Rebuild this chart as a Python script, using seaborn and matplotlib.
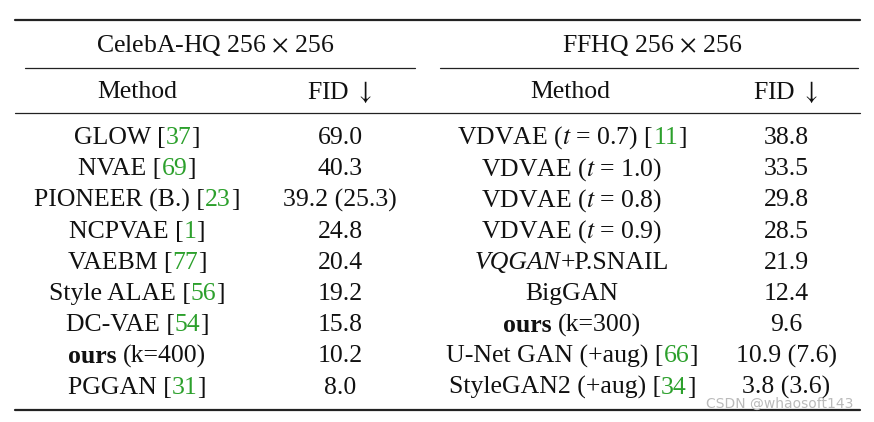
import re
import matplotlib
matplotlib.use("Agg")
import matplotlib.pyplot as plt
import seaborn as sns

sns.set_theme(style="white")
plt.rcParams['font.family'] = ['Liberation Serif', 'DejaVu Serif']
plt.rcParams['mathtext.fontset'] = 'stix'

left_title = "CelebA-HQ 256 $\\times$ 256"
right_title = "FFHQ 256 $\\times$ 256"
col_headers = ["Method", "FID $\\downarrow$", "Method", "FID $\\downarrow$"]
left_methods = ["GLOW [{37}]", "NVAE [{69}]", "PIONEER (B.) [{23}]", "NCPVAE [{1}]",
                "VAEBM [{77}]", "Style ALAE [{56}]", "DC-VAE [{54}]", "**ours** (k=400)", "PGGAN [{31}]"]
left_fid = ["69.0", "40.3", "39.2 (25.3)", "24.8", "20.4", "19.2", "15.8", "10.2", "8.0"]
right_methods = ["VDVAE ($t$ = 0.7) [{11}]", "VDVAE ($t$ = 1.0)", "VDVAE ($t$ = 0.8)", "VDVAE ($t$ = 0.9)",
                 "*VQGAN*+P.SNAIL", "BigGAN", "**ours** (k=300)", "U-Net GAN (+aug) [{66}]", "StyleGAN2 (+aug) [{34}]"]
right_fid = ["38.8", "33.5", "29.8", "28.5", "21.9", "12.4", "9.6", "10.9 (7.6)", "3.8 (3.6)"]

W, H = 874, 422
fig = plt.figure(figsize=(W/100, H/100), dpi=100)
ax = fig.add_axes([0, 0, 1, 1])
ax.set_xlim(0, W); ax.set_ylim(H, 0); ax.axis('off')
FS = 18.5
GREEN = '#2ca02c'
r = fig.canvas.get_renderer()

def tw(s, **kw):
    t = ax.text(0, 0, s, fontsize=FS, **kw)
    w = t.get_window_extent(r).width
    t.remove()
    return w

SP = tw("a a") - tw("aa")

def parse(s):
    out = []
    for tok in re.split(r'(\{[^}]*\}|\*\*[^*]*\*\*|\*[^*]*\*)', s):
        if not tok: continue
        if tok.startswith('{'): out.append((tok[1:-1], dict(color=GREEN)))
        elif tok.startswith('**'): out.append((tok[2:-2], dict(fontweight='bold')))
        elif tok.startswith('*'): out.append((tok[1:-1], dict(fontstyle='italic')))
        else: out.append((tok, {}))
    return out

def cell(xc, y, s):
    items = []
    for txt, st in parse(s):
        lead = len(txt) - len(txt.lstrip(' '))
        trail = len(txt) - len(txt.rstrip(' '))
        core = txt.strip(' ')
        w = tw(core, **st) if core else 0
        items.append((core, st, lead*SP, w, trail*SP))
    total = sum(a + w + b for _, _, a, w, b in items)
    x = xc - total/2
    for core, st, a, w, b in items:
        x += a
        if core:
            ax.text(x, y, core, fontsize=FS, va='center', ha='left',
                    color=st.get('color', '#111111'),
                    fontweight=st.get('fontweight', 'normal'),
                    fontstyle=st.get('fontstyle', 'normal'))
        x += w + b

ax.plot([15, 860], [20, 20], color='#222222', lw=1.6)
ax.plot([15, 860], [410, 410], color='#222222', lw=1.6)
ax.plot([25, 415], [68, 68], color='#222222', lw=0.9)
ax.plot([440, 858], [68, 68], color='#222222', lw=0.9)
ax.plot([15, 860], [113, 113], color='#222222', lw=0.9)

cell(215, 45, left_title)
cell(652, 45, right_title)
for xc, h in zip([137, 340, 570, 786], col_headers):
    cell(xc, 92, h)

y0, dy = 138, 31.2
for i in range(len(left_methods)):
    y = y0 + i*dy
    cell(137, y, left_methods[i])
    cell(340, y, left_fid[i])
    cell(572, y, right_methods[i])
    cell(786, y, right_fid[i])

ax.text(780, 404, "CSDN @whaosoft143", fontsize=10, color='#bbbbbb', ha='center', va='center',
        family='DejaVu Sans')

fig.savefig("out.png", dpi=100, facecolor='white')
